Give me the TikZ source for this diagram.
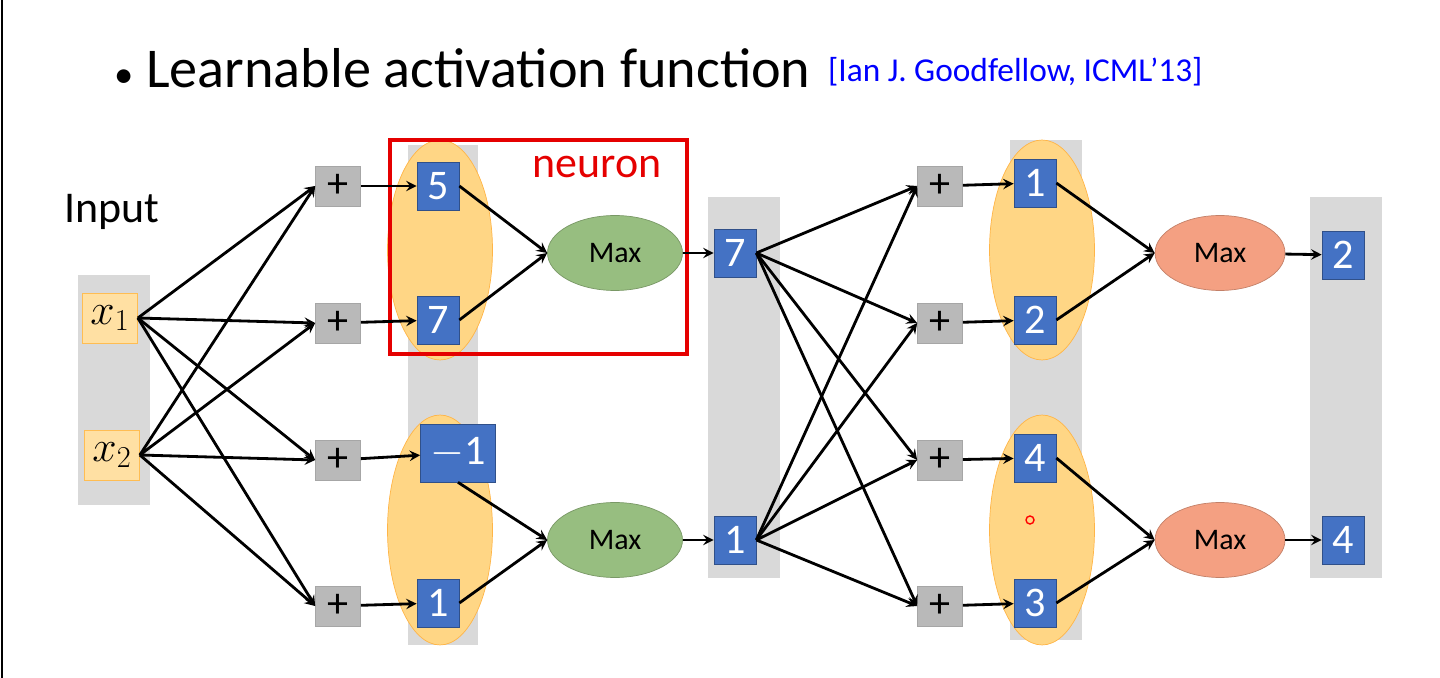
\documentclass[tikz,border=0pt]{standalone}
\usepackage{fontspec}
\setmainfont{Carlito}
\usetikzlibrary{shapes.geometric, arrows, positioning, calc}
\definecolor{boxblue}{RGB}{68,114,196}
\definecolor{colgray}{RGB}{217,217,217}
\definecolor{ellyel}{RGB}{255,204,102}
\definecolor{maxgreen}{RGB}{151,190,128}
\definecolor{maxred}{RGB}{244,160,130}
\tikzstyle{column} = [fill=colgray, draw=none]
\tikzstyle{group} = [ellipse, minimum width=2.1cm, minimum height=4.4cm, fill=ellyel!80, draw=ellyel!70!orange]
\tikzstyle{value} = [rectangle, minimum width=0.84cm, minimum height=0.96cm, inner sep=1pt, fill=boxblue, draw=boxblue!70!black, text=white, font=\fontsize{24}{28}\selectfont]
\tikzstyle{sum} = [rectangle, minimum width=0.9cm, minimum height=0.8cm, fill=gray!55, draw=gray!70, font=\fontsize{24}{28}\selectfont]
\tikzstyle{inp} = [rectangle, minimum width=1.1cm, minimum height=1.0cm, fill=ellyel!60, draw=ellyel!80!orange, font=\fontsize{24}{28}\selectfont]
\tikzstyle{maxg} = [ellipse, minimum width=2.7cm, minimum height=1.5cm, fill=maxgreen, draw=maxgreen!80!black, font=\fontsize{17}{20}\selectfont]
\tikzstyle{maxr} = [ellipse, minimum width=2.6cm, minimum height=1.5cm, fill=maxred, draw=maxred!80!black, font=\fontsize{17}{20}\selectfont]
\tikzstyle{arrow} = [line width=1.6pt,->,>=stealth]
\begin{document}
\begin{tikzpicture}[x=0.02cm, y=-0.02cm]
\useasboundingbox (0,0) rectangle (1440,678);
\draw[thick] (2,0) -- (2,678);
% title
\node[anchor=west, font=\fontsize{32}{38}\selectfont] (title) at (108,68) {{\fontsize{22}{26}\selectfont\textbullet}\ Learnable activation function};
\node[anchor=west, text=blue, font=\fontsize{19}{22}\selectfont] (cite) at (822,72) {[Ian J. Goodfellow, ICML’13]};
% columns
\fill[column] (78,275) rectangle (150,505);
\fill[column] (408,145) rectangle (478,645);
\fill[column] (708,197) rectangle (780,578);
\fill[column] (1010,140) rectangle (1082,640);
\fill[column] (1310,197) rectangle (1382,578);
\node (g1) [group] at (440,250) {};
\node (g2) [group, minimum height=4.6cm] at (440,530) {};
\node (g3) [group] at (1042,250) {};
\node (g4) [group, minimum height=4.6cm] at (1042,530) {};
% input
\node[font=\fontsize{25}{30}\selectfont] (input) at (112,212) {Input};
\node (x1) [inp] at (110,318) {$x_1$};
\node (x2) [inp] at (112,455) {$x_2$};
% first layer
\node (s1) [sum] at (338,186) {+};
\node (s2) [sum] at (338,323) {+};
\node (s3) [sum] at (338,460) {+};
\node (s4) [sum] at (338,606) {+};
\node (z1) [value] at (438,186) {5};
\node (z2) [value] at (438,320) {7};
\node (z3) [value, minimum width=1.5cm, minimum height=1.16cm] at (458,453) {$-$1};
\node (z4) [value] at (438,603) {1};
\node (m1) [maxg] at (615,253) {Max};
\node (m2) [maxg] at (615,540) {Max};
\node (a1) [value] at (735,253) {7};
\node (a2) [value] at (735,540) {1};
% neuron frame
\draw[red!90!black, line width=2.2pt] (390,140) rectangle (687,354);
\node[text=red!90!black, font=\fontsize{25}{30}\selectfont] (neuron) at (597,167) {neuron};
% second layer
\node (t1) [sum] at (940,186) {+};
\node (t2) [sum] at (940,323) {+};
\node (t3) [sum] at (940,460) {+};
\node (t4) [sum] at (940,606) {+};
\node (y1) [value] at (1035,183) {1};
\node (y2) [value] at (1035,320) {2};
\node (y3) [value] at (1035,458) {4};
\node (y4) [value] at (1035,603) {3};
\node (n1) [maxr] at (1220,253) {Max};
\node (n2) [maxr] at (1220,540) {Max};
\node (o1) [value] at (1343,255) {2};
\node (o2) [value] at (1343,540) {4};
\draw[red, thick] (1030,520) circle (4);

\foreach \i in {x1,x2} \foreach \j in {s1,s2,s3,s4} \draw [arrow] (\i.east) -- (\j.west);
\foreach \i in {a1,a2} \foreach \j in {t1,t2,t3,t4} \draw [arrow] (\i.east) -- (\j.west);
\draw [arrow] (s1) -- (z1);
\draw [arrow] (s2) -- (z2);
\draw [arrow] (s3) -- (z3);
\draw [arrow] (s4) -- (z4);
\draw [arrow] (z1.east) -- (m1.west);
\draw [arrow] (z2.east) -- (m1.west);
\draw [arrow] (z3.south) -- (m2.west);
\draw [arrow] (z4.east) -- (m2.west);
\draw [arrow] (m1) -- (a1);
\draw [arrow] (m2) -- (a2);
\draw [arrow] (t1) -- (y1);
\draw [arrow] (t2) -- (y2);
\draw [arrow] (t3) -- (y3);
\draw [arrow] (t4) -- (y4);
\draw [arrow] (y1.east) -- (n1.west);
\draw [arrow] (y2.east) -- (n1.west);
\draw [arrow] (y3.east) -- (n2.west);
\draw [arrow] (y4.east) -- (n2.west);
\draw [arrow] (n1) -- (o1);
\draw [arrow] (n2) -- (o2);
\end{tikzpicture}
\end{document}
